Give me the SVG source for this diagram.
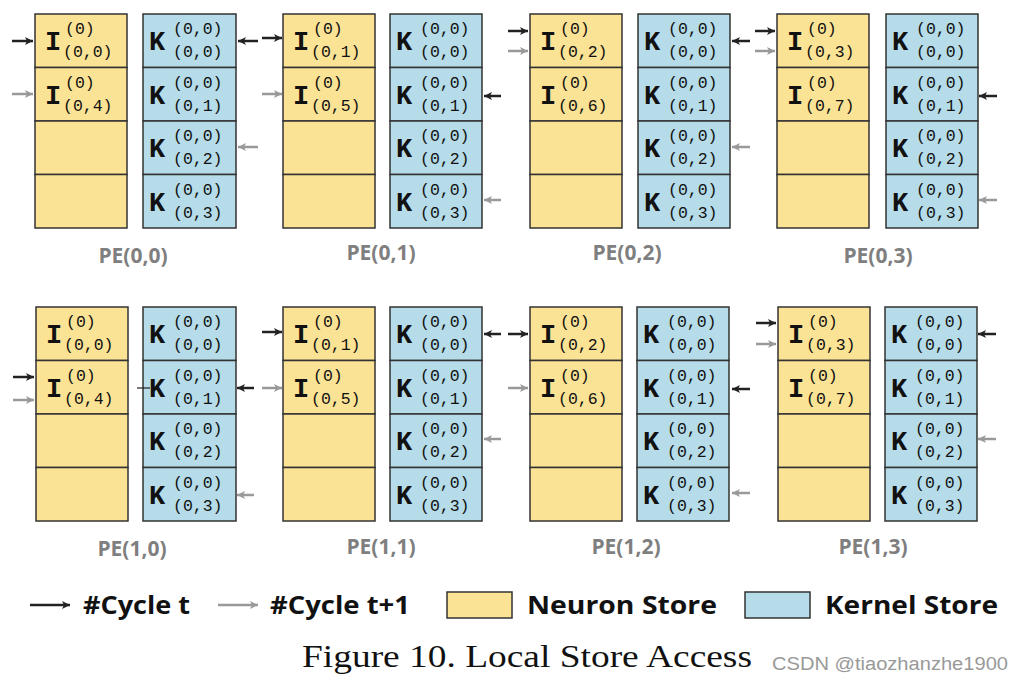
<svg xmlns="http://www.w3.org/2000/svg" width="1021" height="682" viewBox="0 0 1021 682">
<defs>
<marker id="hb" viewBox="0 0 10 10" refX="10" refY="5" markerWidth="3.2" markerHeight="3.2" markerUnits="strokeWidth" orient="auto"><path d="M0,0L10,5L0,10L2.5,5Z" fill="#222"/></marker>
<marker id="hg" viewBox="0 0 10 10" refX="10" refY="5" markerWidth="3.2" markerHeight="3.2" markerUnits="strokeWidth" orient="auto"><path d="M0,0L10,5L0,10L2.5,5Z" fill="#999"/></marker>
<style>
.n{fill:#fbe396;stroke:#333;stroke-width:1.5}
.k{fill:#b5dce8;stroke:#333;stroke-width:1.5}
.big{font-family:"Liberation Mono",monospace;font-weight:bold;font-size:27px;fill:#111}
.sm{font-family:"Liberation Mono",monospace;font-size:16.5px;fill:#111}
.pe{font-family:"Open Sans",sans-serif;font-weight:bold;font-size:21px;fill:#7f7f7f;text-anchor:middle}
.lg{font-family:"Open Sans",sans-serif;font-weight:bold;font-size:25px;fill:#111}
.b{stroke:#222;stroke-width:2.5;fill:none;marker-end:url(#hb)}
.g{stroke:#999;stroke-width:2.5;fill:none;marker-end:url(#hg)}
</style>
</defs>
<rect width="1021" height="682" fill="#fff"/>

<g id="pe00">
<rect class="n" x="35" y="14" width="92" height="53.5"/><rect class="n" x="35" y="67.5" width="92" height="53.5"/><rect class="n" x="35" y="121" width="92" height="53.5"/><rect class="n" x="35" y="174.5" width="92" height="53.5"/>
<rect class="k" x="143" y="14" width="93" height="53.5"/><rect class="k" x="143" y="67.5" width="93" height="53.5"/><rect class="k" x="143" y="121" width="93" height="53.5"/><rect class="k" x="143" y="174.5" width="93" height="53.5"/>
<text class="big" x="45" y="50">I</text><text class="sm" x="65" y="34">(0)</text><text class="sm" x="63" y="57">(0,0)</text>
<text class="big" x="45" y="103.5">I</text><text class="sm" x="65" y="87.5">(0)</text><text class="sm" x="63" y="110.5">(0,4)</text>
<text class="big" x="149" y="50">K</text><text class="sm" x="173" y="34">(0,0)</text><text class="sm" x="173" y="57">(0,0)</text>
<text class="big" x="149" y="103.5">K</text><text class="sm" x="173" y="87.5">(0,0)</text><text class="sm" x="173" y="110.5">(0,1)</text>
<text class="big" x="149" y="157">K</text><text class="sm" x="173" y="141">(0,0)</text><text class="sm" x="173" y="164">(0,2)</text>
<text class="big" x="149" y="210.5">K</text><text class="sm" x="173" y="194.5">(0,0)</text><text class="sm" x="173" y="217.5">(0,3)</text>
<text class="pe" x="133" y="263">PE(0,0)</text>
</g>

<g id="pe01" transform="translate(248,0)">
<rect class="n" x="35" y="14" width="92" height="53.5"/><rect class="n" x="35" y="67.5" width="92" height="53.5"/><rect class="n" x="35" y="121" width="92" height="53.5"/><rect class="n" x="35" y="174.5" width="92" height="53.5"/>
<rect class="k" x="142" y="14" width="92" height="53.5"/><rect class="k" x="142" y="67.5" width="92" height="53.5"/><rect class="k" x="142" y="121" width="92" height="53.5"/><rect class="k" x="142" y="174.5" width="92" height="53.5"/>
<text class="big" x="45" y="50">I</text><text class="sm" x="65" y="34">(0)</text><text class="sm" x="63" y="57">(0,1)</text>
<text class="big" x="45" y="103.5">I</text><text class="sm" x="65" y="87.5">(0)</text><text class="sm" x="63" y="110.5">(0,5)</text>
<text class="big" x="148" y="50">K</text><text class="sm" x="172" y="34">(0,0)</text><text class="sm" x="172" y="57">(0,0)</text>
<text class="big" x="148" y="103.5">K</text><text class="sm" x="172" y="87.5">(0,0)</text><text class="sm" x="172" y="110.5">(0,1)</text>
<text class="big" x="148" y="157">K</text><text class="sm" x="172" y="141">(0,0)</text><text class="sm" x="172" y="164">(0,2)</text>
<text class="big" x="148" y="210.5">K</text><text class="sm" x="172" y="194.5">(0,0)</text><text class="sm" x="172" y="217.5">(0,3)</text>
<text class="pe" x="133" y="260">PE(0,1)</text>
</g>

<g id="pe02" transform="translate(495,0)">
<rect class="n" x="35" y="14" width="92" height="53.5"/><rect class="n" x="35" y="67.5" width="92" height="53.5"/><rect class="n" x="35" y="121" width="92" height="53.5"/><rect class="n" x="35" y="174.5" width="92" height="53.5"/>
<rect class="k" x="143" y="14" width="92" height="53.5"/><rect class="k" x="143" y="67.5" width="92" height="53.5"/><rect class="k" x="143" y="121" width="92" height="53.5"/><rect class="k" x="143" y="174.5" width="92" height="53.5"/>
<text class="big" x="45" y="50">I</text><text class="sm" x="65" y="34">(0)</text><text class="sm" x="63" y="57">(0,2)</text>
<text class="big" x="45" y="103.5">I</text><text class="sm" x="65" y="87.5">(0)</text><text class="sm" x="63" y="110.5">(0,6)</text>
<text class="big" x="149" y="50">K</text><text class="sm" x="173" y="34">(0,0)</text><text class="sm" x="173" y="57">(0,0)</text>
<text class="big" x="149" y="103.5">K</text><text class="sm" x="173" y="87.5">(0,0)</text><text class="sm" x="173" y="110.5">(0,1)</text>
<text class="big" x="149" y="157">K</text><text class="sm" x="173" y="141">(0,0)</text><text class="sm" x="173" y="164">(0,2)</text>
<text class="big" x="149" y="210.5">K</text><text class="sm" x="173" y="194.5">(0,0)</text><text class="sm" x="173" y="217.5">(0,3)</text>
<text class="pe" x="132" y="260">PE(0,2)</text>
</g>

<g id="pe03" transform="translate(742,0)">
<rect class="n" x="35" y="14" width="92" height="53.5"/><rect class="n" x="35" y="67.5" width="92" height="53.5"/><rect class="n" x="35" y="121" width="92" height="53.5"/><rect class="n" x="35" y="174.5" width="92" height="53.5"/>
<rect class="k" x="144" y="14" width="92" height="53.5"/><rect class="k" x="144" y="67.5" width="92" height="53.5"/><rect class="k" x="144" y="121" width="92" height="53.5"/><rect class="k" x="144" y="174.5" width="92" height="53.5"/>
<text class="big" x="45" y="50">I</text><text class="sm" x="65" y="34">(0)</text><text class="sm" x="63" y="57">(0,3)</text>
<text class="big" x="45" y="103.5">I</text><text class="sm" x="65" y="87.5">(0)</text><text class="sm" x="63" y="110.5">(0,7)</text>
<text class="big" x="150" y="50">K</text><text class="sm" x="174" y="34">(0,0)</text><text class="sm" x="174" y="57">(0,0)</text>
<text class="big" x="150" y="103.5">K</text><text class="sm" x="174" y="87.5">(0,0)</text><text class="sm" x="174" y="110.5">(0,1)</text>
<text class="big" x="150" y="157">K</text><text class="sm" x="174" y="141">(0,0)</text><text class="sm" x="174" y="164">(0,2)</text>
<text class="big" x="150" y="210.5">K</text><text class="sm" x="174" y="194.5">(0,0)</text><text class="sm" x="174" y="217.5">(0,3)</text>
<text class="pe" x="136" y="263">PE(0,3)</text>
</g>

<g id="pe10" transform="translate(1,293)">
<rect class="n" x="35" y="14" width="92" height="53.5"/><rect class="n" x="35" y="67.5" width="92" height="53.5"/><rect class="n" x="35" y="121" width="92" height="53.5"/><rect class="n" x="35" y="174.5" width="92" height="53.5"/>
<rect class="k" x="142" y="14" width="93" height="53.5"/><rect class="k" x="142" y="67.5" width="93" height="53.5"/><rect class="k" x="142" y="121" width="93" height="53.5"/><rect class="k" x="142" y="174.5" width="93" height="53.5"/>
<text class="big" x="45" y="50">I</text><text class="sm" x="65" y="34">(0)</text><text class="sm" x="63" y="57">(0,0)</text>
<text class="big" x="45" y="103.5">I</text><text class="sm" x="65" y="87.5">(0)</text><text class="sm" x="63" y="110.5">(0,4)</text>
<text class="big" x="148" y="50">K</text><text class="sm" x="172" y="34">(0,0)</text><text class="sm" x="172" y="57">(0,0)</text>
<text class="big" x="148" y="103.5">K</text><text class="sm" x="172" y="87.5">(0,0)</text><text class="sm" x="172" y="110.5">(0,1)</text>
<text class="big" x="148" y="157">K</text><text class="sm" x="172" y="141">(0,0)</text><text class="sm" x="172" y="164">(0,2)</text>
<text class="big" x="148" y="210.5">K</text><text class="sm" x="172" y="194.5">(0,0)</text><text class="sm" x="172" y="217.5">(0,3)</text>
<text class="pe" x="131" y="263">PE(1,0)</text>
</g>

<g id="pe11" transform="translate(248,293)">
<rect class="n" x="35" y="14" width="92" height="53.5"/><rect class="n" x="35" y="67.5" width="92" height="53.5"/><rect class="n" x="35" y="121" width="92" height="53.5"/><rect class="n" x="35" y="174.5" width="92" height="53.5"/>
<rect class="k" x="142" y="14" width="92" height="53.5"/><rect class="k" x="142" y="67.5" width="92" height="53.5"/><rect class="k" x="142" y="121" width="92" height="53.5"/><rect class="k" x="142" y="174.5" width="92" height="53.5"/>
<text class="big" x="45" y="50">I</text><text class="sm" x="65" y="34">(0)</text><text class="sm" x="63" y="57">(0,1)</text>
<text class="big" x="45" y="103.5">I</text><text class="sm" x="65" y="87.5">(0)</text><text class="sm" x="63" y="110.5">(0,5)</text>
<text class="big" x="148" y="50">K</text><text class="sm" x="172" y="34">(0,0)</text><text class="sm" x="172" y="57">(0,0)</text>
<text class="big" x="148" y="103.5">K</text><text class="sm" x="172" y="87.5">(0,0)</text><text class="sm" x="172" y="110.5">(0,1)</text>
<text class="big" x="148" y="157">K</text><text class="sm" x="172" y="141">(0,0)</text><text class="sm" x="172" y="164">(0,2)</text>
<text class="big" x="148" y="210.5">K</text><text class="sm" x="172" y="194.5">(0,0)</text><text class="sm" x="172" y="217.5">(0,3)</text>
<text class="pe" x="133" y="261">PE(1,1)</text>
</g>

<g id="pe12" transform="translate(495,293)">
<rect class="n" x="35" y="14" width="92" height="53.5"/><rect class="n" x="35" y="67.5" width="92" height="53.5"/><rect class="n" x="35" y="121" width="92" height="53.5"/><rect class="n" x="35" y="174.5" width="92" height="53.5"/>
<rect class="k" x="142" y="14" width="92" height="53.5"/><rect class="k" x="142" y="67.5" width="92" height="53.5"/><rect class="k" x="142" y="121" width="92" height="53.5"/><rect class="k" x="142" y="174.5" width="92" height="53.5"/>
<text class="big" x="45" y="50">I</text><text class="sm" x="65" y="34">(0)</text><text class="sm" x="63" y="57">(0,2)</text>
<text class="big" x="45" y="103.5">I</text><text class="sm" x="65" y="87.5">(0)</text><text class="sm" x="63" y="110.5">(0,6)</text>
<text class="big" x="148" y="50">K</text><text class="sm" x="172" y="34">(0,0)</text><text class="sm" x="172" y="57">(0,0)</text>
<text class="big" x="148" y="103.5">K</text><text class="sm" x="172" y="87.5">(0,0)</text><text class="sm" x="172" y="110.5">(0,1)</text>
<text class="big" x="148" y="157">K</text><text class="sm" x="172" y="141">(0,0)</text><text class="sm" x="172" y="164">(0,2)</text>
<text class="big" x="148" y="210.5">K</text><text class="sm" x="172" y="194.5">(0,0)</text><text class="sm" x="172" y="217.5">(0,3)</text>
<text class="pe" x="131" y="261">PE(1,2)</text>
</g>

<g id="pe13" transform="translate(743,293)">
<rect class="n" x="35" y="14" width="92" height="53.5"/><rect class="n" x="35" y="67.5" width="92" height="53.5"/><rect class="n" x="35" y="121" width="92" height="53.5"/><rect class="n" x="35" y="174.5" width="92" height="53.5"/>
<rect class="k" x="142" y="14" width="92" height="53.5"/><rect class="k" x="142" y="67.5" width="92" height="53.5"/><rect class="k" x="142" y="121" width="92" height="53.5"/><rect class="k" x="142" y="174.5" width="92" height="53.5"/>
<text class="big" x="45" y="50">I</text><text class="sm" x="65" y="34">(0)</text><text class="sm" x="63" y="57">(0,3)</text>
<text class="big" x="45" y="103.5">I</text><text class="sm" x="65" y="87.5">(0)</text><text class="sm" x="63" y="110.5">(0,7)</text>
<text class="big" x="148" y="50">K</text><text class="sm" x="172" y="34">(0,0)</text><text class="sm" x="172" y="57">(0,0)</text>
<text class="big" x="148" y="103.5">K</text><text class="sm" x="172" y="87.5">(0,0)</text><text class="sm" x="172" y="110.5">(0,1)</text>
<text class="big" x="148" y="157">K</text><text class="sm" x="172" y="141">(0,0)</text><text class="sm" x="172" y="164">(0,2)</text>
<text class="big" x="148" y="210.5">K</text><text class="sm" x="172" y="194.5">(0,0)</text><text class="sm" x="172" y="217.5">(0,3)</text>
<text class="pe" x="130" y="261">PE(1,3)</text>
</g>

<g id="connectors">
<line class="b" x1="12" y1="41" x2="33" y2="41"/><line class="g" x1="12" y1="94" x2="33" y2="94"/>
<line class="b" x1="258" y1="41" x2="238" y2="41"/><line class="g" x1="258" y1="147" x2="238" y2="147"/>
<line class="b" x1="262" y1="38" x2="282" y2="38"/><line class="g" x1="262" y1="94" x2="282" y2="94"/>
<line class="b" x1="501" y1="96" x2="484" y2="96"/><line class="g" x1="501" y1="200" x2="484" y2="200"/>
<line class="b" x1="508" y1="31" x2="528" y2="31"/><line class="g" x1="508" y1="51" x2="528" y2="51"/>
<line class="b" x1="750" y1="41" x2="732" y2="41"/><line class="g" x1="750" y1="147" x2="732" y2="147"/>
<line class="b" x1="755" y1="31" x2="775" y2="31"/><line class="g" x1="755" y1="51" x2="775" y2="51"/>
<line class="b" x1="997" y1="96" x2="979" y2="96"/><line class="g" x1="997" y1="200" x2="979" y2="200"/>

<line class="b" x1="13" y1="377" x2="34" y2="377"/><line class="g" x1="13" y1="400" x2="34" y2="400"/>
<line stroke="#222" stroke-width="1.2" x1="137" y1="388" x2="150" y2="388"/>
<line class="b" x1="254" y1="388" x2="237" y2="388"/><line class="g" x1="254" y1="495" x2="237" y2="495"/>
<line class="b" x1="262" y1="332" x2="282" y2="332"/><line class="g" x1="262" y1="388" x2="282" y2="388"/>
<line class="b" x1="501" y1="334" x2="484" y2="334"/><line class="g" x1="501" y1="439" x2="484" y2="439"/>
<line class="b" x1="508" y1="334" x2="528" y2="334"/><line class="g" x1="508" y1="388" x2="528" y2="388"/>
<line class="b" x1="750" y1="389" x2="732" y2="389"/><line class="g" x1="750" y1="493" x2="732" y2="493"/>
<line class="b" x1="756" y1="323" x2="776" y2="323"/><line class="g" x1="756" y1="344" x2="776" y2="344"/>
<line class="b" x1="996" y1="334" x2="978" y2="334"/><line class="g" x1="996" y1="439" x2="978" y2="439"/>
</g>

<g id="legend">
<line class="b" x1="30" y1="605" x2="70" y2="605"/>
<text class="lg" x="83" y="614" textLength="107" lengthAdjust="spacingAndGlyphs">#Cycle t</text>
<line class="g" x1="218" y1="605" x2="258" y2="605"/>
<text class="lg" x="270" y="614" textLength="140" lengthAdjust="spacingAndGlyphs">#Cycle t+1</text>
<rect class="n" x="447" y="592" width="65" height="26"/>
<text class="lg" x="527" y="614" textLength="190" lengthAdjust="spacingAndGlyphs">Neuron  Store</text>
<rect class="k" x="745" y="592" width="65" height="26"/>
<text class="lg" x="825" y="614" textLength="173" lengthAdjust="spacingAndGlyphs">Kernel  Store</text>
</g>
<text x="302" y="667" font-family="Liberation Serif,serif" font-size="31" fill="#111" textLength="450" lengthAdjust="spacingAndGlyphs">Figure 10. Local Store Access</text>
<text x="772" y="670" font-family="Liberation Sans,sans-serif" font-size="18" fill="#999" textLength="236" lengthAdjust="spacingAndGlyphs">CSDN @tiaozhanzhe1900</text>
</svg>
